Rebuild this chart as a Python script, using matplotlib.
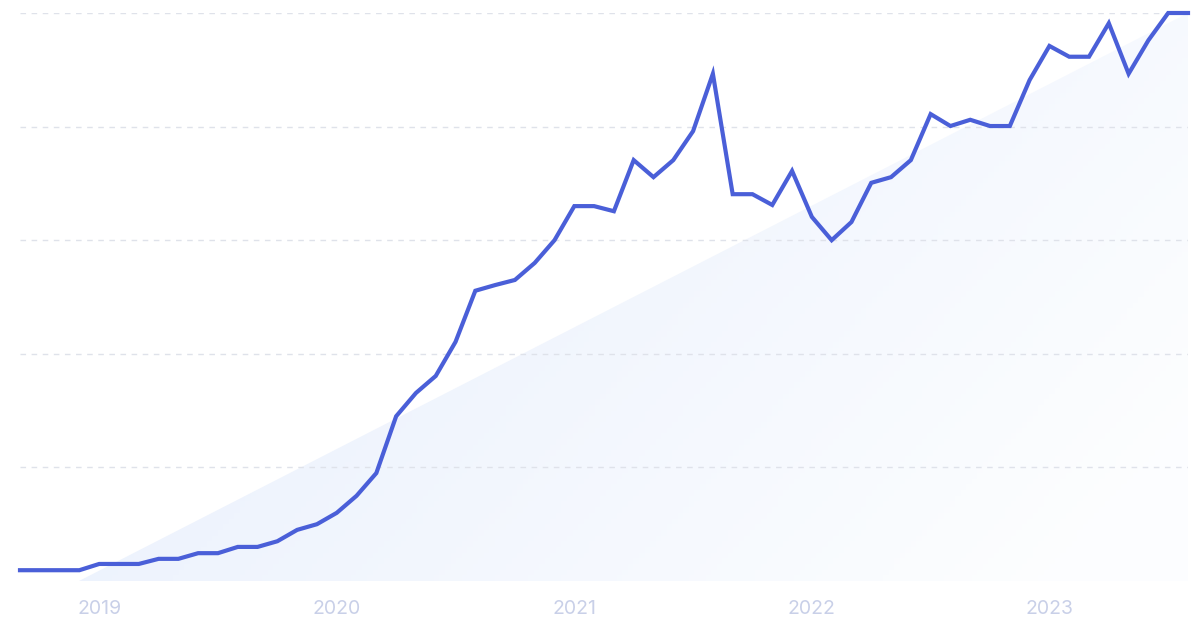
import matplotlib
matplotlib.use("Agg")
import matplotlib.pyplot as plt
import numpy as np
from matplotlib.patches import Polygon

values = [1.9,1.9,1.9,1.9,3.0,3.0,3.0,3.9,3.9,4.9,4.9,6.0,6.0,7.0,9.0,10.0,12.0,15.0,19.0,29.0,
          33.1,36.1,42.1,51.1,52.1,53.0,56.0,60.0,66.0,66.0,65.1,74.1,71.1,74.1,79.2,89.3,68.1,68.1,66.2,72.2,
          64.1,60.0,63.2,70.1,71.1,74.1,82.2,80.1,81.2,80.1,80.1,88.2,94.2,92.3,92.3,98.2,89.3,95.2,100.0,100.0]
year_labels = ["2019", "2020", "2021", "2022", "2023"]
year_pos = [4, 16, 28, 40, 52]

fig = plt.figure(figsize=(12, 6.29), dpi=100)
ax = fig.add_axes([20/1200, 48/629, 1168/1200, 568/629])
n = len(values)
x = np.arange(n)
ax.set_xlim(0, n - 1)
ax.set_ylim(0, 100)

grad = np.zeros((100, 200, 4))
xx, yy = np.meshgrid(np.linspace(0, 1, 200), np.linspace(0, 1, 100))
t = np.clip(0.75 * xx + 0.35 * yy, 0, 1)
c0 = np.array([0.90, 0.93, 0.99]); c1 = np.array([0.99, 0.995, 1.0])
for k in range(3):
    grad[..., k] = c0[k] * (1 - t) + c1[k] * t
grad[..., 3] = 1
im = ax.imshow(grad, extent=[3, n - 1, 0, 100], origin='upper', aspect='auto', zorder=0)
tri = Polygon([[3, 0], [n - 1, 0], [n - 1, 100]], closed=True, transform=ax.transData, facecolor='none', edgecolor='none')
ax.add_patch(tri)
im.set_clip_path(tri)

for g in [20, 40, 60, 80, 100]:
    ax.axhline(g, color='#dfe2ea', lw=1, ls=(0, (4, 4)), zorder=1)

ax.plot(x, values, color='#4a5fd8', lw=3, zorder=3, solid_joinstyle='miter', clip_on=False)

for s in ax.spines.values():
    s.set_visible(False)
ax.set_yticks([])
ax.set_xticks(year_pos)
ax.set_xticklabels(year_labels, fontsize=14, color='#c9d0e8', family='Inter')
ax.tick_params(axis='x', length=0, pad=14)
fig.savefig("out.png", dpi=100, facecolor='white')
